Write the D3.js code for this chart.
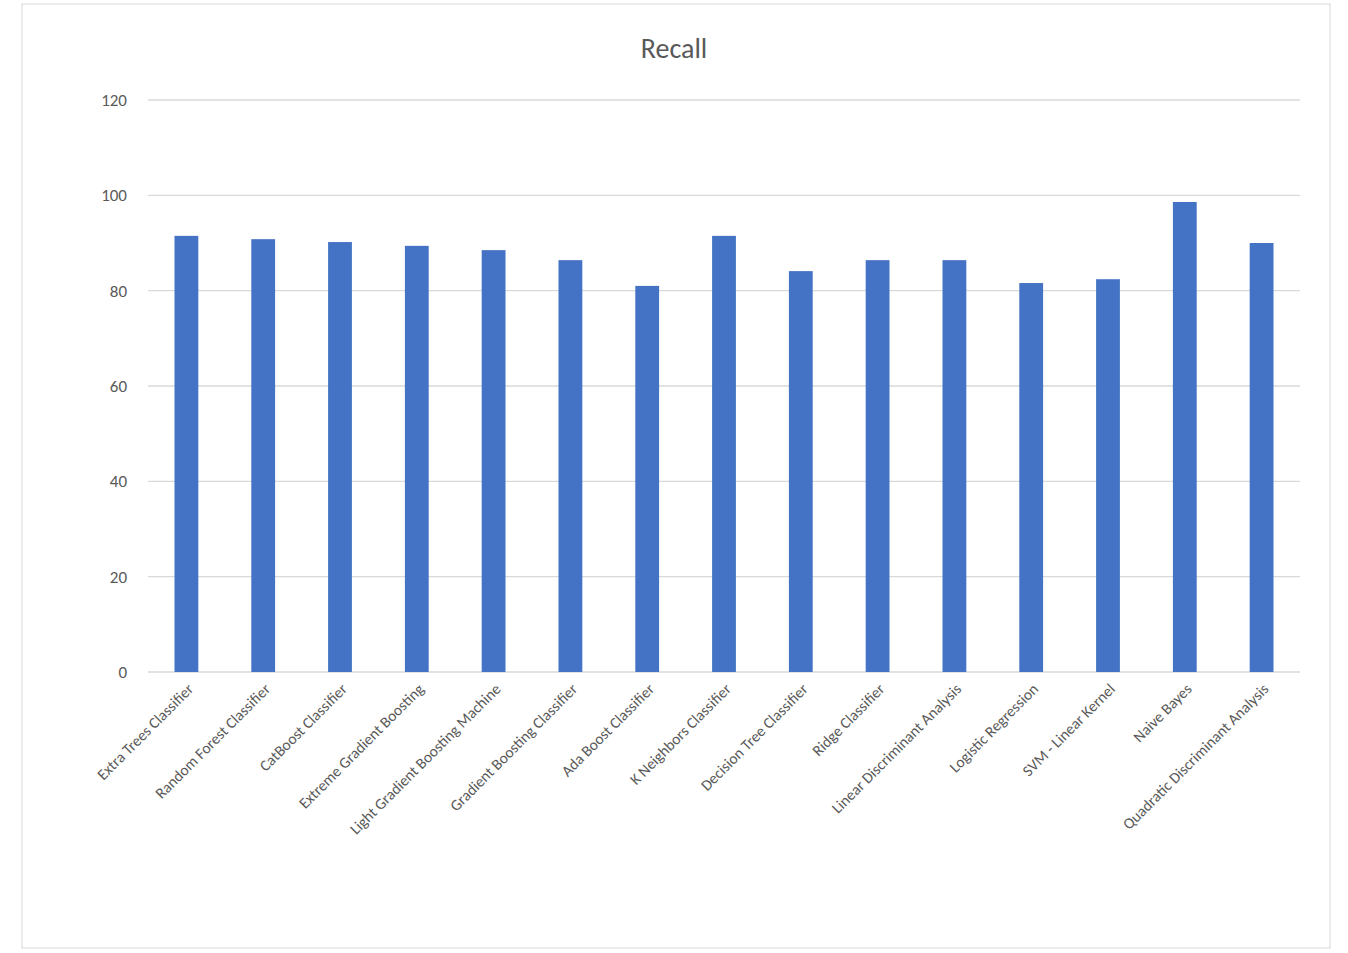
<!DOCTYPE html>
<html><head><meta charset="utf-8">
<script src="https://cdn.jsdelivr.net/npm/d3@7"></script>
<style>body{margin:0;background:#fff;font-family:Calibri,Carlito,"Open Sans","Liberation Sans",sans-serif;}</style>
</head><body><svg id="c" width="1348" height="953"></svg>
<script>
const categories=["Extra Trees Classifier","Random Forest Classifier","CatBoost Classifier","Extreme Gradient Boosting","Light Gradient Boosting Machine","Gradient Boosting Classifier","Ada Boost Classifier","K Neighbors Classifier","Decision Tree Classifier","Ridge Classifier","Linear Discriminant Analysis","Logistic Regression","SVM - Linear Kernel","Naive Bayes","Quadratic Discriminant Analysis"];
const recall=[91.5,90.8,90.2,89.4,88.5,86.4,81.0,91.5,84.1,86.4,86.4,81.6,82.4,98.6,90.0];
const yTicks=[0,20,40,60,80,100,120];
const svg=d3.select("#c");
svg.append("rect").attr("x",22).attr("y",4).attr("width",1308).attr("height",944).attr("fill","#fff").attr("stroke","#d9d9d9");
const x=d3.scaleBand().domain(categories).range([148,1300]).paddingInner(0.69).paddingOuter(0.345);
const y=d3.scaleLinear().domain([0,120]).range([672,100]);
const g=svg.append("g");
g.selectAll("line.grid").data(yTicks).join("line").attr("x1",148).attr("x2",1300).attr("y1",d=>y(d)).attr("y2",d=>y(d)).attr("stroke","#d9d9d9").attr("stroke-width",1.3);
g.selectAll("text.yt").data(yTicks).join("text").attr("x",127).attr("y",d=>y(d)+6).attr("text-anchor","end").attr("font-size",17).attr("fill","#595959").text(d=>d);
g.selectAll("rect.bar").data(recall).join("rect").attr("x",(d,i)=>x(categories[i])).attr("width",x.bandwidth()).attr("y",d=>y(d)).attr("height",d=>y(0)-y(d)).attr("fill","#4472c4");
g.selectAll("text.xl").data(categories).join("text").attr("text-anchor","end").attr("font-size",15.5).attr("fill","#595959")
 .attr("transform",d=>`translate(${x(d)+x.bandwidth()/2+8},${690}) rotate(-45)`).text(d=>d);
svg.append("text").attr("x",674).attr("y",58).attr("text-anchor","middle").attr("font-size",28).attr("fill","#595959").text("Recall");
</script></body></html>
